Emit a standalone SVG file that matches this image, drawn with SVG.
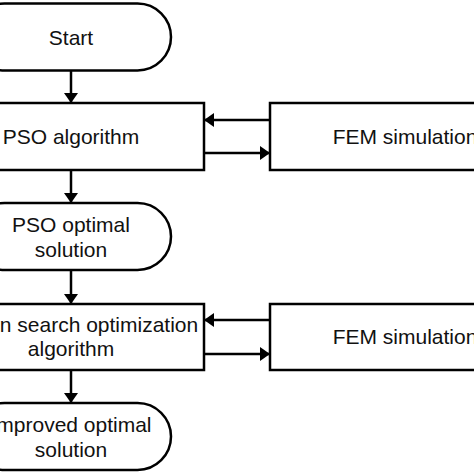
<svg xmlns="http://www.w3.org/2000/svg" width="474" height="474" viewBox="0 0 474 474">
  <defs>
    <marker id="arr" markerUnits="userSpaceOnUse" markerWidth="11" markerHeight="14" refX="10" refY="7" orient="auto">
      <path d="M0,0 L10,7 L0,14 z" fill="#000"/>
    </marker>
    <style>
      .shape { fill: #fff; stroke: #000; stroke-width: 2.5; }
      .conn { fill: none; stroke: #000; stroke-width: 2.5; }
      .lbl { font-family: "Liberation Sans", Arial, sans-serif; font-size: 21px; fill: #111; text-anchor: middle; }
    </style>
  </defs>
  <rect width="474" height="474" fill="#fff"/>

  <g id="connectors">
    <line class="conn" x1="71" y1="70.5" x2="71" y2="103" marker-end="url(#arr)"/>
    <line class="conn" x1="71" y1="170" x2="71" y2="203" marker-end="url(#arr)"/>
    <line class="conn" x1="71" y1="270" x2="71" y2="304" marker-end="url(#arr)"/>
    <line class="conn" x1="71" y1="370" x2="71" y2="403" marker-end="url(#arr)"/>
    <line class="conn" x1="270" y1="120" x2="204" y2="120" marker-end="url(#arr)"/>
    <line class="conn" x1="204" y1="153" x2="270" y2="153" marker-end="url(#arr)"/>
    <line class="conn" x1="270" y1="320" x2="204" y2="320" marker-end="url(#arr)"/>
    <line class="conn" x1="204" y1="354" x2="270" y2="354" marker-end="url(#arr)"/>
  </g>

  <g id="start">
    <rect class="shape" x="-29" y="3.5" width="200" height="67" rx="33.5" ry="33.5"/>
    <text class="lbl" x="71" y="44.5">Start</text>
  </g>

  <g id="pso">
    <rect class="shape" x="-62" y="103" width="266" height="67"/>
    <text class="lbl" x="71" y="143.5">PSO algorithm</text>
  </g>

  <g id="fem1">
    <rect class="shape" x="270" y="103" width="270" height="67"/>
    <text class="lbl" x="405" y="143.5">FEM simulation</text>
  </g>

  <g id="pso-opt">
    <rect class="shape" x="-29" y="203" width="200" height="67" rx="33.5" ry="33.5"/>
    <text class="lbl" x="71" y="231.5">PSO optimal</text>
    <text class="lbl" x="71" y="256.5">solution</text>
  </g>

  <g id="pattern">
    <rect class="shape" x="-62" y="304" width="266" height="66"/>
    <text class="lbl" x="71" y="331.5">Pattern search optimization</text>
    <text class="lbl" x="71" y="356">algorithm</text>
  </g>

  <g id="fem2">
    <rect class="shape" x="270" y="304" width="270" height="66"/>
    <text class="lbl" x="405" y="344">FEM simulation</text>
  </g>

  <g id="improved">
    <rect class="shape" x="-29" y="403" width="200" height="67" rx="33.5" ry="33.5"/>
    <text class="lbl" x="71" y="431.5">Improved optimal</text>
    <text class="lbl" x="71" y="457">solution</text>
  </g>
</svg>
